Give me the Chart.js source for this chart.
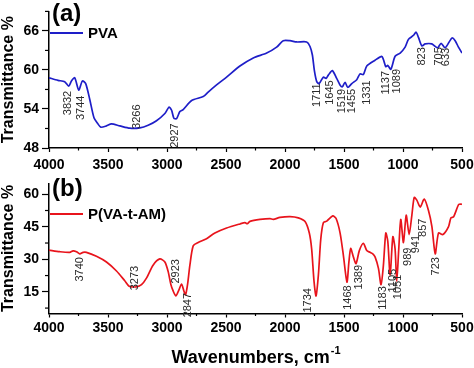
<!DOCTYPE html>
<html><head><meta charset="utf-8">
<script src="https://cdn.jsdelivr.net/npm/chart.js@4"></script>
<style>
html,body{margin:0;padding:0;background:#fff;}
#wrap{position:relative;width:474px;height:368px;overflow:hidden;}
#c1{position:absolute;left:0;top:0;}
#c2{position:absolute;left:0;top:172px;}
</style></head><body>
<div id="wrap">
<canvas id="c1" width="474" height="172"></canvas>
<canvas id="c2" width="474" height="196"></canvas>
</div>
<script>
// ---------- DATA ----------
const pvaWavenumbers = [4000,3924,3867,3833,3810,3782,3748,3717,3689,3655,3618,3589,3561,3513,3471,3400,3315,3230,3160,3089,3018,2982,2961,2942,2919,2891,2863,2791,2693,2651,2580,2495,2382,2269,2155,2071,2015,1958,1901,1816,1788,1768,1751,1731,1711,1675,1652,1633,1599,1562,1534,1514,1491,1468,1434,1392,1364,1336,1307,1237,1180,1166,1146,1129,1103,1067,1024,982,954,912,889,869,840,812,756,708,677,643,586,558,530,500];
const pvaTransmittance = [58.8,58.4,58.2,57.5,58.3,58.8,56.9,58.3,57.9,55.5,52.6,51.8,51.2,51.4,51.7,51.4,51.05,51.1,51.5,52.2,53.3,54.3,53.8,52.6,52.5,53.6,53.9,55.3,55.9,56.6,57.7,58.9,60.6,61.85,62.6,63.5,64.5,64.5,64.3,64.3,63.6,62.3,59.9,58.2,57.9,58.9,58.7,59.2,59.9,58.7,57.7,57.4,58.1,57.3,57.9,58.5,59.4,59.3,60.6,61.5,62.1,61.6,60.5,60.7,60.1,62.1,62.6,63.5,64.7,65.3,65.8,65.0,63.7,64.0,64.0,63.4,64.1,63.4,64.9,64.5,63.5,62.6];

const pamWavenumbers = [4000,3909,3824,3796,3767,3739,3711,3683,3598,3513,3428,3358,3321,3259,3216,3174,3118,3061,3018,2990,2967,2948,2925,2897,2877,2857,2843,2826,2806,2778,2736,2665,2594,2495,2382,2339,2320,2297,2212,2127,2099,2043,1957,1887,1830,1794,1774,1754,1737,1717,1697,1675,1646,1595,1567,1533,1505,1475,1458,1443,1420,1398,1370,1336,1307,1279,1256,1236,1208,1186,1166,1146,1129,1109,1086,1067,1053,1036,1019,996,973,948,925,905,883,854,820,784,755,727,699,662,614,594,571,529,509,500];
const pamTransmittance = [34.2,33.5,33.2,33.9,33.5,32.5,33.2,33.2,31.4,28.75,24.6,20.1,17.6,17.3,18.3,21.3,27.3,30.2,28.75,24.3,18.3,15.4,13.1,16.1,18.6,15.4,13.6,18.3,27.3,36.2,37.7,39.5,42.1,44.4,46.3,46.9,46.4,47.5,48.4,48.8,48.4,49.3,49.7,49.1,47.4,42.1,34.7,19.8,13.1,22.8,39.2,46.9,47.6,50.0,48.8,42.1,31.7,19.5,29.0,35.0,31.0,28.0,34.0,37.4,34.0,33.2,32.5,31.0,25.8,18.3,27.3,42.1,38.4,22.8,40.4,34.7,19.8,34.7,48.4,37.7,50.3,41.4,50.3,58.5,57.3,54.1,57.8,52.5,45.1,32.5,42.1,41.4,45.1,49.1,49.6,55.2,55.5,55.3];

const xTickValues = [500,750,1000,1250,1500,1750,2000,2250,2500,2750,3000,3250,3500,3750,4000];
const xMajorTicks = [500,1000,1500,2000,2500,3000,3500,4000];
const pvaYTicks = [48,51,54,57,60,63,66,69];
const pvaYMajor = [48,54,60,66];
const pamYTicks = [7.5,15,22.5,30,37.5,45,52.5,60];
const pamYMajor = [15,30,45,60];

const pvaPeakLabels = ['3832','3744','3266','2927','1711','1645','1519','1455','1331','1137','1089','823','705','633'];
const pvaPeakLabelX = [3839,3731,3258,2933,1731,1618,1519,1429,1307,1143,1047,840,699,637];
const pvaPeakLabelY = [56.8,56.05,54.7,51.8,57.95,58.4,57.1,57.1,58.4,59.85,60.15,63.5,63.5,63.4];

const pamPeakLabels = ['3740','3273','2923','2847','1734','1468','1389','1183','1105','1051','989','941','857','723'];
const pamPeakLabelX = [3740,3273,2925,2821,1802,1468,1372,1171,1086,1044,962,889,827,722];
const pamPeakLabelY = [31.0,27.0,30.1,14.5,16.7,18.0,27.4,17.6,25.6,22.9,35.4,41.25,48.8,31.0];

// ---------- DRAWING ----------
const FONT = '"Liberation Sans", Arial, sans-serif';

const decorPlugin = {
  id: 'decor',
  afterDraw(chart, args, o) {
    const ctx = chart.ctx, xs = chart.scales.x, ys = chart.scales.y, ca = chart.chartArea;
    ctx.save();
    // minor ticks
    ctx.strokeStyle = '#000'; ctx.lineWidth = 1.2;
    xs.ticks.forEach(t => {
      if (!o.xMajor.includes(t.value)) {
        const px = xs.getPixelForValue(t.value);
        ctx.beginPath(); ctx.moveTo(px, ca.bottom); ctx.lineTo(px, ca.bottom + 2.5); ctx.stroke();
      }
    });
    ys.ticks.forEach(t => {
      if (!o.yMajor.includes(t.value)) {
        const py = ys.getPixelForValue(t.value);
        ctx.beginPath(); ctx.moveTo(ca.left, py); ctx.lineTo(ca.left - 4, py); ctx.stroke();
      }
    });
    // panel label
    ctx.fillStyle = '#000';
    ctx.font = 'bold 24px ' + FONT;
    ctx.textAlign = 'left'; ctx.textBaseline = 'middle';
    ctx.fillText(o.panel, 52, o.panelY);
    // legend
    ctx.strokeStyle = o.color; ctx.lineWidth = 2;
    ctx.beginPath(); ctx.moveTo(50, o.legendY); ctx.lineTo(83, o.legendY); ctx.stroke();
    ctx.font = 'bold 15px ' + FONT;
    ctx.fillText(o.legend, 88, o.legendY + 1);
    // y title
    ctx.save();
    ctx.translate(9, (ca.top + ca.bottom) / 2);
    ctx.rotate(-Math.PI / 2);
    ctx.textAlign = 'center'; ctx.textBaseline = 'middle';
    ctx.font = 'bold 16px ' + FONT;
    ctx.fillText('Transmittance %', 0, 0);
    ctx.restore();
    // peak annotations
    ctx.font = '11px ' + FONT;
    ctx.fillStyle = '#2a2a2a';
    o.labels.forEach((lab, i) => {
      const px = xs.getPixelForValue(o.labelX[i]);
      const py = ys.getPixelForValue(o.labelY[i]);
      ctx.save();
      ctx.translate(px, py);
      ctx.rotate(-Math.PI / 2);
      ctx.textAlign = 'right'; ctx.textBaseline = 'middle';
      ctx.fillText(lab, 0, 0);
      ctx.restore();
    });
    // x title
    if (o.xTitleY) {
      ctx.fillStyle = '#000';
      ctx.font = 'bold 18px ' + FONT;
      ctx.textBaseline = 'alphabetic';
      const main = 'Wavenumbers, cm';
      const sup = '-1';
      const w1 = ctx.measureText(main).width;
      ctx.font = 'bold 11px ' + FONT;
      const w2 = ctx.measureText(sup).width;
      const x0 = (ca.left + ca.right) / 2 - (w1 + w2) / 2;
      ctx.font = 'bold 18px ' + FONT;
      ctx.textAlign = 'left';
      ctx.fillText(main, x0, o.xTitleY);
      ctx.font = 'bold 11px ' + FONT;
      ctx.fillText(sup, x0 + w1 + 1, o.xTitleY - 9);
    }
    ctx.restore();
  }
};

function makePanel(canvasId, xs, ys, color, yMin, yMax, yTicks, yMajor, decor, pads, xAxisH, xPad) {
  const pts = xs.map((x, i) => ({x: x, y: ys[i]}));
  return new Chart(document.getElementById(canvasId), {
    type: 'line',
    data: { datasets: [{ data: pts, borderColor: color, borderWidth: 1.7, pointRadius: 0, tension: 0.25, fill: false }] },
    options: {
      responsive: false, animation: false, parsing: false,
      layout: { padding: pads },
      plugins: { legend: { display: false }, tooltip: { enabled: false }, decor: decor },
      scales: {
        x: {
          type: 'linear', reverse: true, min: 500, max: 4000,
          afterBuildTicks: s => { s.ticks = xTickValues.map(v => ({value: v})); },
          afterFit: s => { s.height = xAxisH; },
          ticks: { autoSkip: false, maxRotation: 0, padding: xPad, color: '#000',
                   font: { family: FONT, size: 14, weight: 'bold' },
                   callback: v => xMajorTicks.includes(v) ? String(v) : '' },
          grid: { drawOnChartArea: false, tickLength: 4, tickWidth: 1.2,
                  tickColor: c => (c.tick && xMajorTicks.includes(c.tick.value)) ? '#000' : 'rgba(0,0,0,0)' },
          border: { display: true, color: '#000', width: 1.5 }
        },
        y: {
          type: 'linear', min: yMin, max: yMax,
          afterBuildTicks: s => { s.ticks = yTicks.map(v => ({value: v})); },
          afterFit: s => { s.width = 49; },
          ticks: { autoSkip: false, padding: 3, color: '#000',
                   font: { family: FONT, size: 14, weight: 'bold' },
                   callback: v => yMajor.includes(v) ? String(v) : '' },
          grid: { drawOnChartArea: false, tickLength: 7, tickWidth: 1.2,
                  tickColor: c => (c.tick && yMajor.includes(c.tick.value)) ? '#000' : 'rgba(0,0,0,0)' },
          border: { display: true, color: '#000', width: 1.5 }
        }
      }
    },
    plugins: [decorPlugin]
  });
}

makePanel('c1', pvaWavenumbers, pvaTransmittance, '#1e1ec8', 48, 69, pvaYTicks, pvaYMajor,
  { panel: '(a)', panelY: 14, legend: 'PVA', legendY: 33, color: '#1e1ec8',
    labels: pvaPeakLabels, labelX: pvaPeakLabelX, labelY: pvaPeakLabelY,
    xMajor: xMajorTicks, yMajor: pvaYMajor },
  { left: 0, right: 12, top: 4, bottom: 0 }, 24, 5);

makePanel('c2', pamWavenumbers, pamTransmittance, '#e8141c', 5, 65, pamYTicks, pamYMajor,
  { panel: '(b)', panelY: 17, legend: 'P(VA-t-AM)', legendY: 42, color: '#e8141c',
    labels: pamPeakLabels, labelX: pamPeakLabelX, labelY: pamPeakLabelY,
    xMajor: xMajorTicks, yMajor: pamYMajor, xTitleY: 191 },
  { left: 0, right: 12, top: 6, bottom: 0 }, 54.5, 2);
</script>
</body></html>
